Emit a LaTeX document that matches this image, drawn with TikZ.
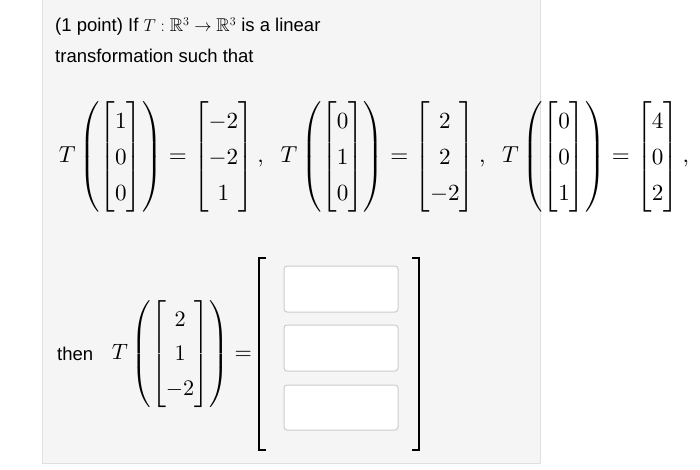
\documentclass[tikz,border=0pt]{standalone}
\usepackage{amsmath,amssymb}
\usepackage{graphicx}
\usepackage{fontspec}
\setmainfont{Liberation Sans}
\newcommand{\mybigmath}[2]{\renewcommand{\arraystretch}{1.3}\resizebox{#1}{!}{$\displaystyle #2$}}
\tikzset{txt/.style={anchor=base west,inner sep=0pt,font=\fontsize{18.5}{22}\selectfont},
 mth/.style={anchor=center,inner sep=0pt},
 ansbox/.style={draw=black!20,fill=white,rounded corners=3pt,line width=1pt}}
\begin{document}
\begin{tikzpicture}[x=1pt,y=-1pt]
\useasboundingbox (0,0) rectangle (700,470);
\fill[black!4] (42,-2) rectangle (540,463);
\draw[black!12] (540,-2) -- (540,463) -- (42,463) -- (42,-2);
\node[txt] (l1) at (55,32) {(1 point) If $T:\mathbb{R}^3\rightarrow\mathbb{R}^3$ is a linear};
\node[txt] (l2) at (55,63) {transformation such that};
\node[mth] (eq) at (374,157) {\mybigmath{630pt}{T\left(\begin{bmatrix}1\\0\\0\end{bmatrix}\right)=\begin{bmatrix}-2\\-2\\1\end{bmatrix},\;\;
T\left(\begin{bmatrix}0\\1\\0\end{bmatrix}\right)=\begin{bmatrix}2\\2\\-2\end{bmatrix},\;\;
T\left(\begin{bmatrix}0\\0\\1\end{bmatrix}\right)=\begin{bmatrix}4\\0\\2\end{bmatrix},}};
\node[txt] (then) at (57,360) {then};
\node[mth] (q) at (182,354) {\mybigmath{140pt}{T\left(\begin{bmatrix}2\\1\\-2\end{bmatrix}\right)=}};
\draw[line width=1.2pt] (266,258) -- (259,258) -- (259,450) -- (266,450);
\draw[line width=1.2pt] (412,258) -- (419,258) -- (419,450) -- (412,450);
\draw[ansbox] (284,266) rectangle (398,312);
\draw[ansbox] (284,325) rectangle (398,371);
\draw[ansbox] (284,385) rectangle (398,430);
\end{tikzpicture}
\end{document}
